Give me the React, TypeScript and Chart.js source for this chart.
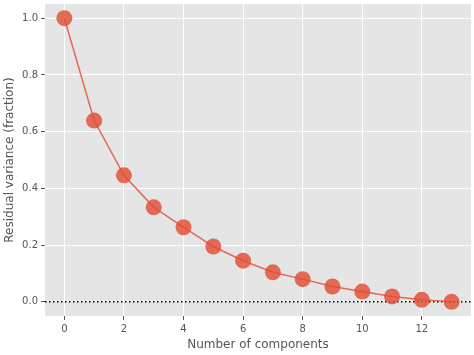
import React, { useEffect, useRef } from "react";
import { Chart, registerables } from "chart.js";

Chart.register(...registerables);

const components = [0, 1, 2, 3, 4, 5, 6, 7, 8, 9, 10, 11, 12, 13];
const residual = [1.0, 0.639, 0.446, 0.333, 0.263, 0.195, 0.145, 0.104, 0.080, 0.054, 0.036, 0.019, 0.007, 0.0];
const xTicks = [0, 2, 4, 6, 8, 10, 12];
const yTicks = [0.0, 0.2, 0.4, 0.6, 0.8, 1.0];
const xRange = [-0.65, 13.65];
const yRange = [-0.05, 1.05];

const bgPlugin = {
  id: "plotBg",
  beforeDraw(chart: any) {
    const { ctx, chartArea } = chart;
    if (!chartArea) return;
    ctx.save();
    ctx.fillStyle = "#E5E5E5";
    ctx.fillRect(chartArea.left, chartArea.top, chartArea.right - chartArea.left, chartArea.bottom - chartArea.top);
    ctx.restore();
  },
};

const zeroPad = (s: any) => {
  s.paddingTop = 0;
  s.paddingBottom = 0;
  s.paddingLeft = 0;
  s.paddingRight = 0;
};

export default function App() {
  const ref = useRef<HTMLCanvasElement>(null);
  useEffect(() => {
    document.body.style.margin = "0";
    const font = "'DejaVu Sans', sans-serif";
    const chart = new Chart(ref.current!, {
      type: "scatter",
      data: {
        datasets: [
          {
            data: components.map((c, i) => ({ x: c, y: residual[i] })),
            showLine: true,
            borderColor: "rgba(226,74,51,0.8)",
            backgroundColor: "rgba(226,74,51,0.8)",
            borderWidth: 1.5,
            pointRadius: 8,
            pointBorderWidth: 0,
            clip: false,
            order: 1,
          },
          {
            data: [
              { x: xRange[0], y: 0 },
              { x: xRange[1], y: 0 },
            ],
            showLine: true,
            borderColor: "#000000",
            borderWidth: 1.5,
            borderDash: [1.5, 2.5],
            pointRadius: 0,
            order: 2,
          },
        ],
      },
      options: {
        animation: false,
        responsive: false,
        layout: { autoPadding: false, padding: { left: 0, right: 3, top: 4, bottom: 0 } },
        plugins: { legend: { display: false }, tooltip: { enabled: false } },
        scales: {
          x: {
            type: "linear",
            min: xRange[0],
            max: xRange[1],
            afterBuildTicks: (s: any) => {
              s.ticks = xTicks.map((v) => ({ value: v }));
            },
            afterFit: (s: any) => {
              s.height = 39;
              zeroPad(s);
            },
            grid: { color: "#FFFFFF", lineWidth: 1, tickColor: "#555555", tickLength: 4, drawOnChartArea: true },
            border: { display: false },
            ticks: { color: "#555555", font: { family: font, size: 10 }, padding: 3, callback: (v: any) => String(v) },
            title: { display: true, text: "Number of components", color: "#555555", font: { family: font, size: 12 }, padding: { top: 0, bottom: 3 } },
          },
          y: {
            type: "linear",
            min: yRange[0],
            max: yRange[1],
            afterBuildTicks: (s: any) => {
              s.ticks = yTicks.map((v) => ({ value: v }));
            },
            afterFit: (s: any) => {
              s.width = 45;
              zeroPad(s);
            },
            grid: { color: "#FFFFFF", lineWidth: 1, tickColor: "#555555", tickLength: 4 },
            border: { display: false },
            ticks: { color: "#555555", font: { family: font, size: 10 }, padding: 3, callback: (v: any) => Number(v).toFixed(1) },
            title: { display: true, text: "Residual variance (fraction)", color: "#555555", font: { family: font, size: 12 }, padding: { top: 3, bottom: 0 } },
          },
        },
      },
      plugins: [bgPlugin],
    });
    return () => chart.destroy();
  }, []);
  return <canvas ref={ref} width={474} height={355} style={{ display: "block" }} />;
}
